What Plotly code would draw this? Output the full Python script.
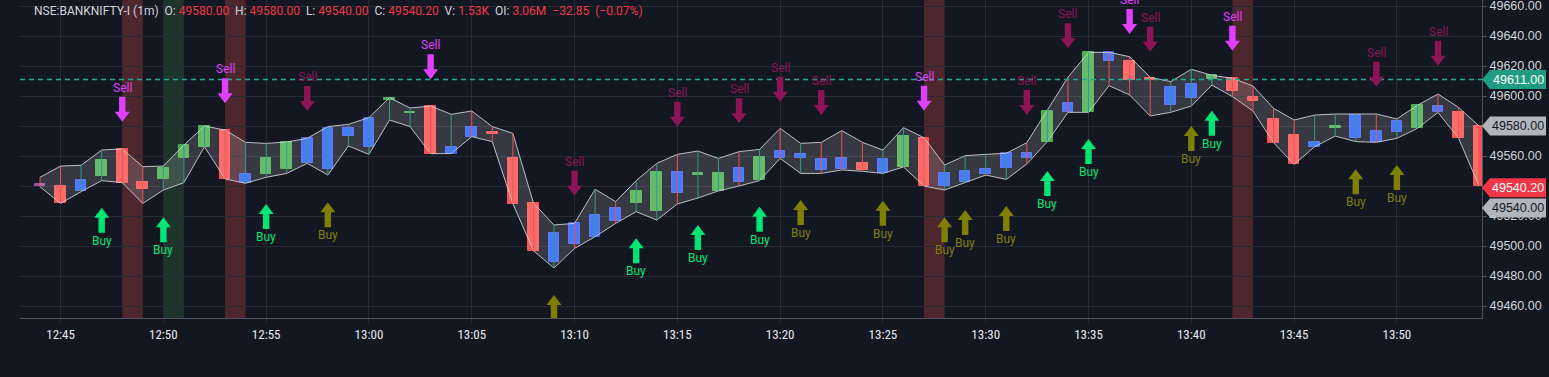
import pandas as pd
import plotly.graph_objects as go

DAY = "2024-06-14 "
times = pd.date_range(DAY + "12:44", periods=71, freq="1min")

opens = [49540.6, 49540.0, 49536.7, 49546.9, 49564.7, 49542.7, 49544.4, 49558.9, 49566.2, 49577.3,
         49542.2, 49548.2, 49551.3, 49555.1, 49551.6, 49573.6, 49566.2, 49597.8, 49588.9, 49593.3,
         49561.6, 49579.1, 49575.3, 49558.4, 49528.7, 49489.1, 49515.1, 49506.2, 49525.1, 49528.9,
         49523.6, 49549.1, 49548.0, 49536.9, 49551.8, 49544.0, 49563.3, 49558.9, 49557.8, 49558.4,
         49555.3, 49548.9, 49552.7, 49572.0, 49540.2, 49542.9, 49548.0, 49552.2, 49561.8, 49569.6,
         49595.1, 49589.1, 49629.1, 49623.3, 49611.5, 49594.0, 49598.9, 49611.6, 49611.8, 49599.1,
         49584.4, 49574.0, 49566.2, 49579.0, 49571.8, 49576.9, 49576.2, 49578.4, 49593.6, 49589.1,
         49580.0]
highs = [49545.8, 49553.3, 49553.8, 49564.0, 49564.7, 49552.9, 49553.3, 49567.3, 49580.0, 49577.3,
         49569.1, 49568.4, 49569.3, 49571.8, 49579.6, 49581.1, 49585.6, 49598.9, 49592.0, 49593.3,
         49587.8, 49590.0, 49579.6, 49575.1, 49528.7, 49514.0, 49515.1, 49537.8, 49529.6, 49543.6,
         49555.1, 49561.1, 49563.3, 49558.4, 49562.9, 49564.4, 49578.4, 49568.4, 49569.1, 49576.9,
         49569.1, 49564.0, 49578.9, 49572.2, 49554.0, 49560.2, 49561.1, 49561.8, 49568.9, 49590.7,
         49612.4, 49629.1, 49629.1, 49626.2, 49612.4, 49609.6, 49617.8, 49613.8, 49611.8, 49606.7,
         49591.8, 49584.0, 49587.3, 49588.0, 49588.0, 49588.0, 49584.7, 49593.8, 49601.3, 49592.4,
         49580.0]
lows = [49539.5, 49528.4, 49536.2, 49543.6, 49542.2, 49528.4, 49537.3, 49542.2, 49566.2, 49544.7,
        49541.8, 49545.8, 49548.4, 49555.1, 49547.3, 49566.7, 49561.1, 49584.0, 49579.6, 49561.6,
        49561.6, 49572.9, 49569.6, 49528.2, 49496.9, 49485.3, 49498.4, 49506.2, 49515.1, 49522.9,
        49517.3, 49528.0, 49532.0, 49536.7, 49540.0, 49543.6, 49558.4, 49548.4, 49548.4, 49550.7,
        49549.8, 49548.4, 49552.7, 49540.0, 49537.3, 49542.2, 49547.3, 49544.4, 49554.7, 49569.6,
        49589.1, 49589.1, 49606.9, 49600.7, 49586.7, 49589.1, 49593.3, 49607.3, 49599.6, 49590.0,
        49568.9, 49554.4, 49566.2, 49573.3, 49569.6, 49569.1, 49571.8, 49578.4, 49589.1, 49571.8,
        49540.0]
closes = [49540.4, 49528.4, 49544.0, 49557.3, 49542.2, 49538.2, 49551.8, 49567.3, 49580.0, 49544.7,
          49547.8, 49558.7, 49569.3, 49571.8, 49578.9, 49578.9, 49585.6, 49598.0, 49589.1, 49561.6,
          49566.0, 49572.9, 49575.1, 49528.2, 49496.9, 49508.4, 49501.1, 49520.7, 49516.9, 49536.4,
          49549.1, 49535.6, 49548.2, 49548.4, 49542.9, 49559.1, 49558.9, 49561.1, 49550.4, 49551.1,
          49550.7, 49558.0, 49573.3, 49540.2, 49548.4, 49550.0, 49551.1, 49561.8, 49558.4, 49590.0,
          49589.1, 49629.1, 49623.6, 49610.7, 49611.1, 49606.2, 49607.8, 49613.8, 49603.6, 49596.9,
          49568.9, 49554.4, 49569.1, 49579.2, 49587.3, 49569.1, 49583.6, 49593.8, 49589.1, 49571.8,
          49540.2]
body_codes = ["p", "r", "b", "g", "r", "r", "g", "g", "g", "r",
              "b", "g", "g", "b", "b", "b", "b", "g", "g", "r",
              "b", "b", "r", "r", "r", "b", "b", "b", "b", "g",
              "g", "b", "g", "g", "b", "g", "b", "b", "b", "b",
              "r", "b", "g", "r", "b", "b", "b", "b", "b", "g",
              "b", "g", "b", "r", "r", "b", "b", "g", "r", "r",
              "r", "r", "b", "g", "b", "b", "b", "g", "b", "r",
              "r"]

sell_strong_t = ["12:48", "12:53", "13:03", "13:27", "13:37", "13:42"]
sell_strong_p = [49582.9, 49595.1, 49611.1, 49590.1, 49641.3, 49630.2]
sell_weak_t = ["12:57", "13:10", "13:15", "13:18", "13:20", "13:22", "13:32", "13:34", "13:38", "13:49", "13:52"]
sell_weak_p = [49590.0, 49533.5, 49579.5, 49581.8, 49596.2, 49587.3, 49587.3, 49631.8, 49629.5, 49606.2, 49620.2]
buy_strong_t = ["12:47", "12:50", "12:55", "13:13", "13:16", "13:19", "13:33", "13:35", "13:41"]
buy_strong_p = [49525.5, 49519.1, 49528.0, 49505.1, 49514.0, 49526.2, 49550.0, 49571.3, 49590.2]
buy_weak_t = ["12:58", "13:09", "13:21", "13:25", "13:28", "13:29", "13:31", "13:40", "13:48", "13:50"]
buy_weak_p = [49529.1, 49467.3, 49530.7, 49530.2, 49519.1, 49524.0, 49526.7, 49580.0, 49551.1, 49554.0]

red_bg_t = ["12:48", "12:53", "13:27", "13:42"]
green_bg_t = ["12:50"]

y_ticks = [49460, 49480, 49500, 49520, 49540, 49560, 49580, 49600, 49620, 49640, 49660]
hline_price = 49611.00
side_labels = [("49580.00", 49580.00, "#b2b5be", "#131722", 0),
               ("49540.20", 49540.20, "#f23645", "#ffffff", -2),
               ("49540.00", 49540.00, "#b2b5be", "#131722", -22)]
header_items = [("O:", "49580.00"), ("H:", "49580.00"), ("L:", "49540.00"), ("C:", "49540.20"),
                ("V:", "1.53K"), ("OI:", "3.06M")]
header_change = "\u221232.85 (\u22120.07%)"

# ---------------- styling ----------------
BG = "#131722"
GRID = "#262a35"
TXT = "#d1d4dc"
TEAL_W = "#2f9e8c"
RED_W = "#ef5350"
COL = {"r": "#ff5252", "g": "#4caf50", "b": "#2962ff", "p": "#a04ea6"}
EDGE = {"r": "#ff5252", "g": "#4caf50", "b": "#4a62f0", "p": "#a04ea6"}
Y_MIN, Y_MAX = 49452, 49664
PLOT_H = 318

def ts(hm):
    return pd.Timestamp(DAY + hm)

fig = go.Figure()

# high/low band
fig.add_trace(go.Scatter(x=times, y=highs, mode="lines",
                         line=dict(color="rgba(205,207,212,0.9)", width=1), hoverinfo="skip"))
fig.add_trace(go.Scatter(x=times, y=lows, mode="lines", fill="tonexty",
                         fillcolor="rgba(255,255,255,0.15)",
                         line=dict(color="rgba(205,207,212,0.9)", width=1), hoverinfo="skip"))

# wicks
for up, colr in ((True, TEAL_W), (False, RED_W)):
    xs, ys = [], []
    for t, o, h, l, c in zip(times, opens, highs, lows, closes):
        if (c >= o) == up:
            xs += [t, t, None]
            ys += [h, l, None]
    fig.add_trace(go.Scatter(x=xs, y=ys, mode="lines", line=dict(color=colr, width=1),
                             hoverinfo="skip"))

# bodies
MIN_BODY = 1.3
heights, bases = [], []
for o, c in zip(opens, closes):
    lo, hi = min(o, c), max(o, c)
    if hi - lo < MIN_BODY:
        mid = (hi + lo) / 2
        lo, hi = mid - MIN_BODY / 2, mid + MIN_BODY / 2
    heights.append(hi - lo)
    bases.append(lo)
fig.add_trace(go.Bar(x=times, y=heights, base=bases, width=31000,
                     marker=dict(color=[COL[k] for k in body_codes],
                                 line=dict(color=[EDGE[k] for k in body_codes], width=1)),
                     hoverinfo="skip"))

shapes = []
annotations = []

# background highlight columns
for lst, colr in ((red_bg_t, "rgba(255,82,82,0.25)"), (green_bg_t, "rgba(76,175,80,0.2)")):
    for hm in lst:
        t = ts(hm)
        shapes.append(dict(type="rect", xref="x", yref="paper", x0=t, x1=t + pd.Timedelta(minutes=1),
                           y0=0, y1=1, fillcolor=colr, line=dict(width=0), layer="below"))

# dashed price line
shapes.append(dict(type="line", xref="paper", yref="y", x0=0, x1=1, y0=hline_price, y1=hline_price,
                   line=dict(color="#22ab94", width=1.5, dash="5px,4px"), layer="above"))

DOWN = "M0,0 L-7.5,10 L-3.2,10 L-3.2,25 L3.2,25 L3.2,10 L7.5,10 Z"
UP = "M0,0 L-7.5,-10 L-3.2,-10 L-3.2,-25 L3.2,-25 L3.2,-10 L7.5,-10 Z"
px_per_unit = PLOT_H / (Y_MAX - Y_MIN)

def add_signal(hm, price, colr, kind):
    t = ts(hm)
    shapes.append(dict(type="path", xref="x", yref="y", xsizemode="pixel", ysizemode="pixel",
                       xanchor=t, yanchor=price, path=DOWN if kind == "Sell" else UP,
                       fillcolor=colr, line=dict(width=0), layer="above"))
    shift = 34 if kind == "Sell" else -33
    text_px = (Y_MAX - price) * px_per_unit - shift
    if text_px > PLOT_H:
        return
    annotations.append(dict(x=t, y=price, xref="x", yref="y", text=kind, showarrow=False,
                            yshift=shift, font=dict(family="Roboto, sans-serif", size=12, color=colr)))

for hm, p in zip(sell_strong_t, sell_strong_p):
    add_signal(hm, p, "#e040fb", "Sell")
for hm, p in zip(sell_weak_t, sell_weak_p):
    add_signal(hm, p, "#8c1457", "Sell")
for hm, p in zip(buy_strong_t, buy_strong_p):
    add_signal(hm, p, "#00e676", "Buy")
for hm, p in zip(buy_weak_t, buy_weak_p):
    add_signal(hm, p, "#808000", "Buy")

# right-side price labels
def label(text, price, bg, fg, yshift):
    s = yshift
    path = f"M0,{s} L8,{s+9.5} L64,{s+9.5} L64,{s-9.5} L8,{s-9.5} Z"
    shapes.append(dict(type="path", xref="paper", yref="y", xsizemode="pixel", ysizemode="pixel",
                       xanchor=1, yanchor=price, path=path, fillcolor=bg, line=dict(width=0),
                       layer="above"))
    annotations.append(dict(x=1, y=price, xref="paper", yref="y", text=text, showarrow=False,
                            xanchor="center", xshift=36, yshift=yshift,
                            font=dict(family="Liberation Sans, sans-serif", size=12.5, color=fg)))

label(f"{hline_price:.2f}", hline_price, "#1f9d83", "#ffffff", 0)
for text, price, bg, fg, ys in side_labels:
    label(text, price, bg, fg, ys)

# header
NB = "\u00a0"
parts = [f'<span style="color:{TXT}">NSE:BANKNIFTY-I (1m)</span>{NB}{NB}']
for k, v in header_items:
    parts.append(f'<span style="color:{TXT}">{k}</span>{NB}<span style="color:#f23645">{v}</span>{NB}{NB}')
parts.append(f'<span style="color:#f23645">{header_change.replace(" ", NB + NB)}</span>')
annotations.append(dict(x=0, y=1, xref="paper", yref="paper", xanchor="left", yanchor="top",
                        xshift=12, yshift=-2, text="".join(parts), showarrow=False,
                        font=dict(family="Roboto, sans-serif", size=12, color=TXT)))

x0 = times[0] - pd.Timedelta(seconds=58.4)
x1 = times[0] + pd.Timedelta(seconds=70.14 * 60)

fig.update_layout(
    width=1549, height=377, margin=dict(l=20, r=67, t=0, b=59),
    paper_bgcolor=BG, plot_bgcolor=BG, showlegend=False, bargap=0,
    shapes=shapes, annotations=annotations,
    xaxis=dict(type="date", range=[x0, x1], tickformat="%H:%M", dtick=300000,
               tick0=DAY + "12:45", showgrid=True, gridcolor=GRID, gridwidth=1,
               showline=True, linecolor="#50535e", linewidth=1, ticks="outside",
               ticklen=4, tickcolor=GRID, zeroline=False,
               tickfont=dict(family="Liberation Sans Narrow, Roboto Condensed, Roboto, sans-serif",
                             size=13, color="#e6e8ee")),
    yaxis=dict(side="right", range=[Y_MIN, Y_MAX], tickvals=y_ticks,
               ticktext=[f"{v:.2f}" for v in y_ticks], showgrid=True, gridcolor=GRID,
               gridwidth=1, showline=True, linecolor="#50535e", linewidth=1,
               ticks="outside", ticklen=4, tickcolor="#50535e", zeroline=False,
               ticklabeloverflow="allow",
               tickfont=dict(family="Liberation Sans, sans-serif", size=12.5, color=TXT)),
)

fig.write_html(
    "out.html",
    config={"displayModeBar": False},
    post_script="document.body.style.margin='0';document.body.style.overflow='hidden';"
                "document.body.style.background='#131722';",
)
